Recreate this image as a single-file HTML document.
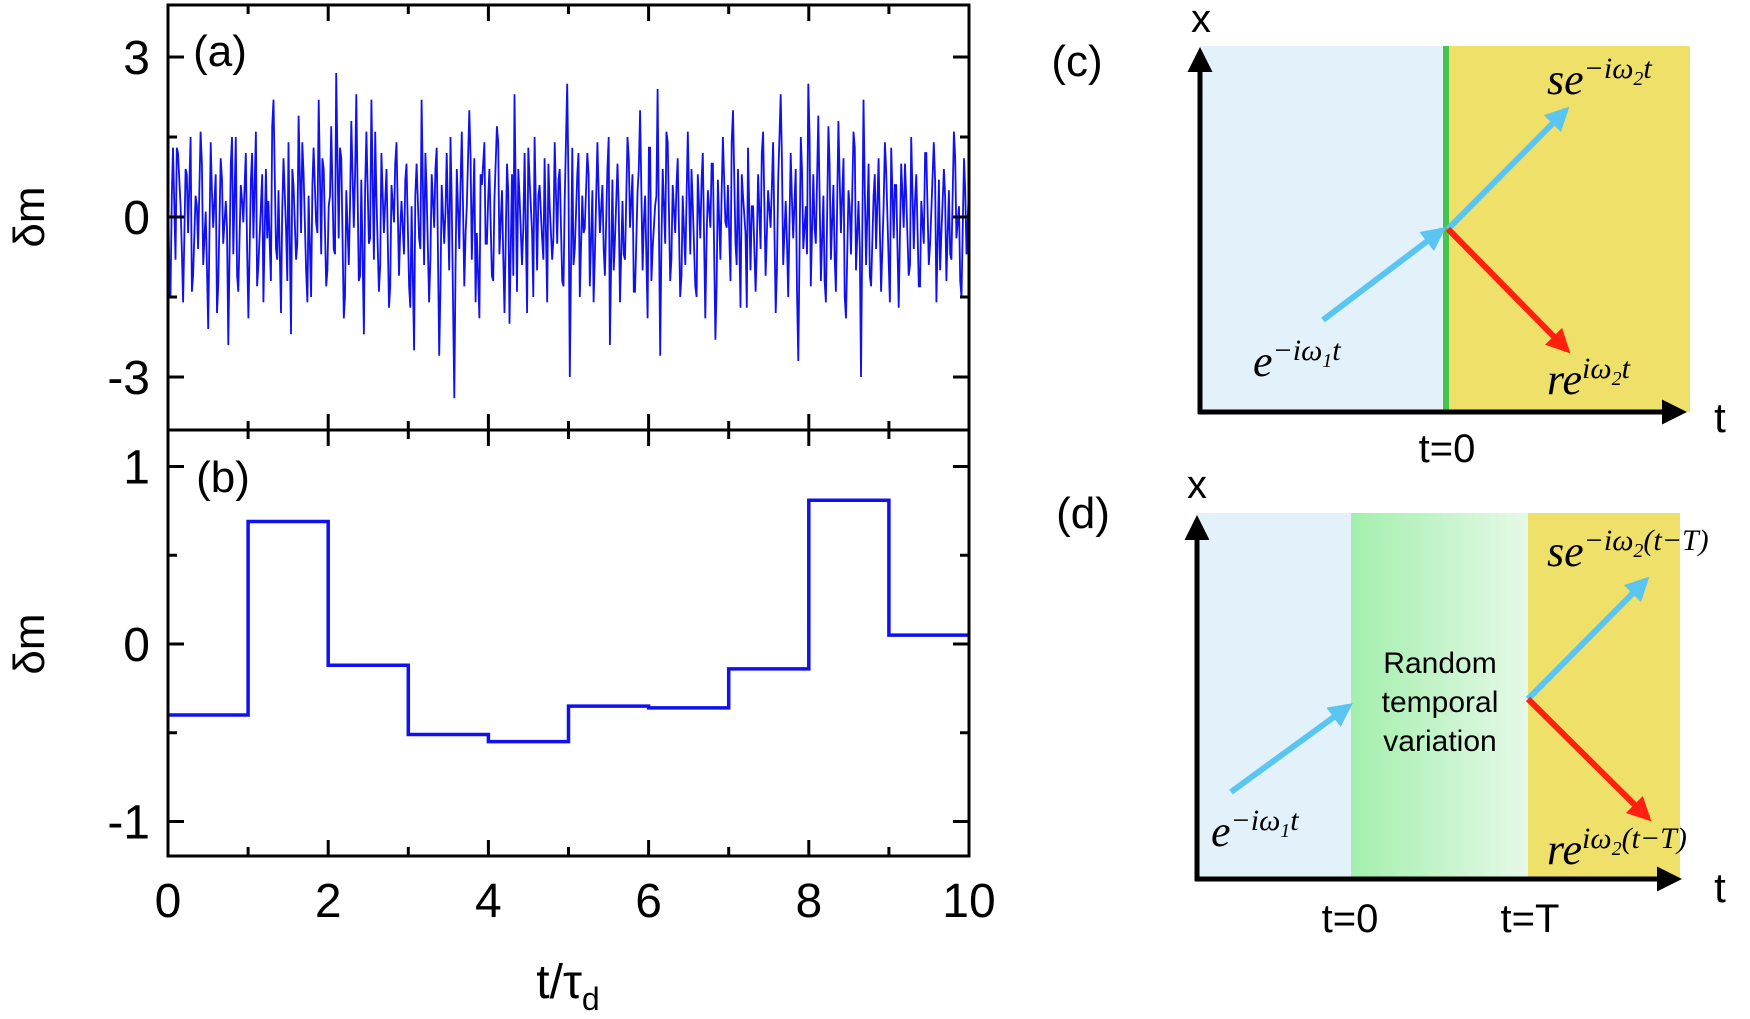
<!DOCTYPE html>
<html><head><meta charset="utf-8"><style>
html,body{margin:0;padding:0;background:#fff;}
svg{display:block;}
text{font-family:"Liberation Sans",sans-serif;}
.m{font-family:"Liberation Serif",serif;font-style:italic;}
</style></head><body>
<svg id="fig" width="1750" height="1019" viewBox="0 0 1750 1019" xmlns="http://www.w3.org/2000/svg">
<defs>
<linearGradient id="grad" x1="0" x2="1" y1="0" y2="0"><stop offset="0" stop-color="#a3efac"/><stop offset="1" stop-color="#e6f9e8"/></linearGradient>
<marker id="ab" viewBox="0 0 10 10" refX="8" refY="5" markerWidth="4" markerHeight="4" orient="auto"><path d="M0,0L10,5L0,10z" fill="#5bc5f2"/></marker>
<marker id="ar" viewBox="0 0 10 10" refX="8" refY="5" markerWidth="4" markerHeight="4" orient="auto"><path d="M0,0L10,5L0,10z" fill="#ff2010"/></marker>
<marker id="ak" viewBox="0 0 10 10" refX="8" refY="5" markerWidth="5" markerHeight="5" orient="auto"><path d="M0,0L10,5L0,10z" fill="#000"/></marker>
</defs>
<g id="left"></g>
<g>
<rect x="1200" y="46" width="246" height="366" fill="#e3f1fa"/>
<rect x="1446" y="46" width="244" height="366" fill="#efe06a"/>
<line x1="1446" y1="46" x2="1446" y2="412" stroke="#46c44e" stroke-width="6"/>
<line x1="1323" y1="320" x2="1442" y2="230" stroke="#5bc5f2" stroke-width="6" marker-end="url(#ab)"/>
<line x1="1448" y1="229" x2="1566" y2="110" stroke="#5bc5f2" stroke-width="6" marker-end="url(#ab)"/>
<line x1="1448" y1="229" x2="1567" y2="350" stroke="#ff2010" stroke-width="6" marker-end="url(#ar)"/>
<line x1="1200" y1="414" x2="1200" y2="52" stroke="#000" stroke-width="5" marker-end="url(#ak)"/>
<line x1="1198" y1="412" x2="1682" y2="412" stroke="#000" stroke-width="5" marker-end="url(#ak)"/>
<text x="1201" y="32" font-size="40" text-anchor="middle">x</text>
<text x="1720" y="432" font-size="42" text-anchor="middle">t</text>
<text x="1077" y="76" font-size="44" text-anchor="middle">(c)</text>
<text x="1447" y="462" font-size="40" text-anchor="middle">t=0</text>
<text class="m" x="1253" y="376" font-size="44">e<tspan font-size="30" dy="-16">−iω<tspan font-size="20" dy="7">1</tspan><tspan dy="-7">t</tspan></tspan></text>
<text class="m" x="1547" y="94" font-size="44">se<tspan font-size="30" dy="-16">−iω<tspan font-size="20" dy="7">2</tspan><tspan dy="-7">t</tspan></tspan></text>
<text class="m" x="1547" y="394" font-size="44">re<tspan font-size="30" dy="-16">iω<tspan font-size="20" dy="7">2</tspan><tspan dy="-7">t</tspan></tspan></text>
</g>
<g>
<rect x="1197" y="513" width="154" height="366" fill="#e3f1fa"/>
<rect x="1351" y="513" width="177" height="366" fill="url(#grad)"/>
<rect x="1528" y="513" width="152" height="366" fill="#efe06a"/>
<line x1="1231" y1="792" x2="1349" y2="706" stroke="#5bc5f2" stroke-width="6" marker-end="url(#ab)"/>
<line x1="1528" y1="699" x2="1646" y2="580" stroke="#5bc5f2" stroke-width="6" marker-end="url(#ab)"/>
<line x1="1528" y1="699" x2="1648" y2="818" stroke="#ff2010" stroke-width="6" marker-end="url(#ar)"/>
<line x1="1197" y1="881" x2="1197" y2="520" stroke="#000" stroke-width="5" marker-end="url(#ak)"/>
<line x1="1195" y1="879" x2="1677" y2="879" stroke="#000" stroke-width="5" marker-end="url(#ak)"/>
<text x="1197" y="498" font-size="40" text-anchor="middle">x</text>
<text x="1720" y="902" font-size="42" text-anchor="middle">t</text>
<text x="1083" y="528" font-size="44" text-anchor="middle">(d)</text>
<text x="1350" y="932" font-size="40" text-anchor="middle">t=0</text>
<text x="1530" y="932" font-size="40" text-anchor="middle">t=T</text>
<text x="1440" y="673" font-size="30" text-anchor="middle">Random</text>
<text x="1440" y="712" font-size="30" text-anchor="middle">temporal</text>
<text x="1440" y="751" font-size="30" text-anchor="middle">variation</text>
<text class="m" x="1211" y="846" font-size="44">e<tspan font-size="30" dy="-16">−iω<tspan font-size="20" dy="7">1</tspan><tspan dy="-7">t</tspan></tspan></text>
<text class="m" x="1547" y="566" font-size="44">se<tspan font-size="30" dy="-16">−iω<tspan font-size="20" dy="7">2</tspan><tspan dy="-7">(t−T)</tspan></tspan></text>
<text class="m" x="1547" y="864" font-size="44">re<tspan font-size="30" dy="-16">iω<tspan font-size="20" dy="7">2</tspan><tspan dy="-7">(t−T)</tspan></tspan></text>
</g>
</svg>
<script>
const noiseValues=[0.5,-1.5,1.3,-0.8,1.2,0.2,-1.6,0.9,-0.3,1.5,-1.1,0.4,-0.6,1.6,-0.9,0.1,-2.1,1.4,-0.2,0.8,-1.3,1.1,-0.5,0.3,-2.4,1.0,-0.7,1.5,-1.4,0.6,-0.1,1.2,-1.9,0.7,-0.4,1.6,-0.9,0.2,-1.6,0.9,
0.3,-1.2,2.2,-0.6,0.5,-1.8,1.1,-0.2,1.4,-2.2,0.6,-0.8,1.9,-0.3,0.8,-1.0,0.4,-1.5,1.3,-0.1,2.2,-0.7,0.9,-1.3,0.2,1.7,-0.6,2.7,-0.4,1.1,-1.9,0.5,-0.9,1.8,-0.2,2.3,-1.2,0.7,-2.2,1.6,
-0.5,2.2,-0.8,0.4,-1.4,1.2,-0.3,0.9,-1.7,0.6,-0.1,1.4,-1.1,0.3,-0.7,1.0,-1.3,0.2,-2.5,1.0,-0.4,2.2,-0.9,0.5,-1.6,0.8,-0.2,1.3,-2.6,0.6,-0.5,1.2,-1.0,0.3,-3.4,0.9,-0.6,1.6,-1.3,0.2,
2.0,-0.8,1.1,-0.3,-1.9,0.6,1.4,-0.5,0.9,-1.1,0.3,1.7,-0.7,0.5,-1.8,1.0,-2.0,0.8,2.3,-1.4,0.4,-0.9,1.2,-1.8,0.7,-0.3,1.5,-1.0,0.6,-0.4,1.1,-1.6,0.2,-0.8,1.4,-0.5,0.9,-1.2,0.3,2.5,
-3.0,1.3,-0.6,0.8,-1.5,0.4,-0.2,1.2,-1.3,0.5,-0.7,1.4,-0.3,0.6,-1.1,0.9,-2.4,0.7,-0.4,1.0,-1.6,0.3,-0.8,1.5,-0.2,0.8,-1.4,0.5,2.0,-1.0,0.4,-1.9,1.3,-0.6,0.2,2.4,-2.6,0.9,-0.5,1.4,
-1.2,0.6,-0.3,1.1,-1.5,0.4,-0.9,1.6,-0.7,0.2,-1.3,0.8,-0.4,1.2,-1.9,0.5,-0.2,1.0,-2.3,0.7,-0.8,1.5,-0.1,0.6,-1.2,2.0,-0.5,0.9,-1.7,0.4,-0.3,1.3,-1.0,0.2,-1.4,0.8,-0.6,1.6,-1.1,0.5,
-0.2,1.4,-1.8,0.7,2.3,-0.9,0.3,-1.5,1.2,-0.4,0.9,-2.7,1.5,-0.6,0.2,2.5,-1.3,0.8,-0.5,1.9,-1.2,0.4,-1.6,1.7,-0.8,0.6,-1.4,1.8,-0.3,1.1,-1.9,0.5,-0.7,1.6,-1.0,0.3,-3.0,2.2,-0.9,1.0,-1.3,0.4,
-0.6,1.1,-1.4,0.2,0.9,-0.8,1.3,-0.4,0.6,-1.7,1.0,-0.2,0.4,-1.1,1.5,-0.6,0.8,-1.3,0.3,-0.5,1.2,-0.9,0.1,1.4,-1.6,0.7,-0.3,0.9,-1.2,0.5,-0.8,1.6,-0.4,0.2,-1.5,1.1,-0.7,0.6,-1.0,0.4,
1.3,-0.6,0.8,-1.4,0.2,1.0,-0.9,0.5,-1.8,0.7,-0.2,1.5,-1.1,0.3,-0.6,1.2,-1.3,0.8,-0.4,1.7,-0.8,0.1,-1.2,0.9,-0.5,1.4,-1.6,0.6,-0.3,1.1,-1.0,0.4,-0.7,1.3,-1.5,0.2,0.8,-1.1,0.5,-0.4,
1.6,-0.9,0.3,-1.3,1.0,-0.2,0.7,-1.7,0.4,-0.6,1.2,-0.8,0.9,-1.4,0.1,1.5,-1.0,0.6,-0.3,1.1,-1.6,0.8,-0.5,0.3,-1.2,1.4,-0.7,0.5,-1.1,0.9,-0.2,1.3,-1.5,0.4,-0.8,1.0,-0.4,0.7,-1.3,0.6,
-0.9,1.2,-0.3,0.8,-1.6,0.5,-0.6,1.5,-1.0,0.2,-0.7,1.1,-1.4,0.9,-0.1,1.3,-1.2,0.4,-0.5,1.6,-0.8,0.6,-1.1,0.3,0.9,-1.5,0.7,-0.4,1.0,-1.3,0.5,-0.2,1.4,-0.9,0.8,-1.7,0.2,-0.6,1.2,-0.3,
0.6,-1.0,1.1,-0.5,0.3,-1.4,0.9,-0.7,1.5,-0.2,0.4,-1.2,1.0,-0.8,0.7,-1.5,0.2,1.3,-0.6,0.5,-1.1,0.8,-0.3,1.4,-1.6,0.6,-0.4,1.0,-0.9,0.3,-1.3,1.2,-0.5,0.7,-1.0,0.4,-0.7,1.1,-1.2,0.5];
const stepValues=[-0.4,0.69,-0.12,-0.51,-0.55,-0.35,-0.36,-0.14,0.81,0.05];
const xTicks=[0,2,4,6,8,10];
const yTicksA=[-3,0,3];
const yTicksB=[-1,0,1];
const NS='http://www.w3.org/2000/svg';
const g=document.getElementById('left');
const X0=168,X1=969;
const xs=v=>X0+(X1-X0)*v/10;
const ya=v=>217-(v/3)*160;
const yb=v=>644-v*177.5;
function mk(tag,attrs,parent){const e=document.createElementNS(NS,tag);for(const k in attrs)e.setAttribute(k,attrs[k]);(parent||g).appendChild(e);return e;}
// interleave so data spikes from first part spread across range: plot in order
const N=noiseValues.length;
const half=320;
const order=[];
for(let i=0;i<N;i++)order.push(i);
// map first 320 values across whole range, remaining values between them
const pts=[];
for(let i=0;i<half;i++){pts.push([i*10/(half-1),noiseValues[i]]);}
for(let j=half;j<N;j++){const k=(j-half)*(half-1)/(N-half);const t=(Math.floor(k)+0.5)*10/(half-1);pts.push([Math.min(t,10),noiseValues[j]]);}
pts.sort((a,b)=>a[0]-b[0]);
let d='';
pts.forEach((p,i)=>{d+=(i?'L':'M')+xs(p[0]).toFixed(1)+','+ya(p[1]).toFixed(1);});
const nl=mk('path',{d:d,fill:'none',stroke:'#1010f0','stroke-width':1.8});


let s='';
stepValues.forEach((v,i)=>{s+=(i?'L':'M')+xs(i)+','+yb(v)+'L'+xs(i+1)+','+yb(v);});
const sl=mk('path',{d:s,fill:'none',stroke:'#1010f0','stroke-width':3.5});


const fa=mk('rect',{x:X0,y:5,width:X1-X0,height:425,fill:'none',stroke:'#000','stroke-width':3});


const fb=mk('rect',{x:X0,y:430,width:X1-X0,height:426,fill:'none',stroke:'#000','stroke-width':3});


for(let v=0;v<=10;v++){const len=v%2?9:16;const x=xs(v);
 [[856,856-len],[430,430-len],[430,430+len],[5,5+len]].forEach(p=>{const t=mk('line',{x1:x,x2:x,y1:p[0],y2:p[1],stroke:'#000','stroke-width':3});
 
 });}
xTicks.forEach(v=>{const t=mk('text',{x:xs(v),y:917,'font-size':48,'text-anchor':'middle'});t.textContent=v;

});
[-3,-1.5,0,1.5,3].forEach(v=>{const len=Number.isInteger(v)?16:9;[[X0,X0+len],[X1,X1-len]].forEach(p=>{const t=mk('line',{x1:p[0],x2:p[1],y1:ya(v),y2:ya(v),stroke:'#000','stroke-width':3});

});});
yTicksA.forEach(v=>{const t=mk('text',{x:150,y:ya(v)+17,'font-size':48,'text-anchor':'end'});t.textContent=v;

});
[-1,-0.5,0,0.5,1].forEach(v=>{const len=Number.isInteger(v)?16:9;[[X0,X0+len],[X1,X1-len]].forEach(p=>{const t=mk('line',{x1:p[0],x2:p[1],y1:yb(v),y2:yb(v),stroke:'#000','stroke-width':3});

});});
yTicksB.forEach(v=>{const t=mk('text',{x:150,y:yb(v)+17,'font-size':48,'text-anchor':'end'});t.textContent=v;

});
function label(txt,x,y,fs,name,rot){const t=mk('text',{x:x,y:y,'font-size':fs,'text-anchor':'middle'});if(rot)t.setAttribute('transform','rotate(-90 '+x+' '+y+')');t.textContent=txt;return t;}
label('(a)',220,66,44,'panel-label-a');
label('(b)',223,492,44,'panel-label-b');
label('δm',44,217,44,'y-axis-title-a',true);
label('δm',44,644,44,'y-axis-title-b',true);
const xt=mk('text',{x:568,y:998,'font-size':48,'text-anchor':'middle'});
xt.innerHTML='t/τ<tspan font-size="32" dy="12">d</tspan>';


</script>
</body></html>
